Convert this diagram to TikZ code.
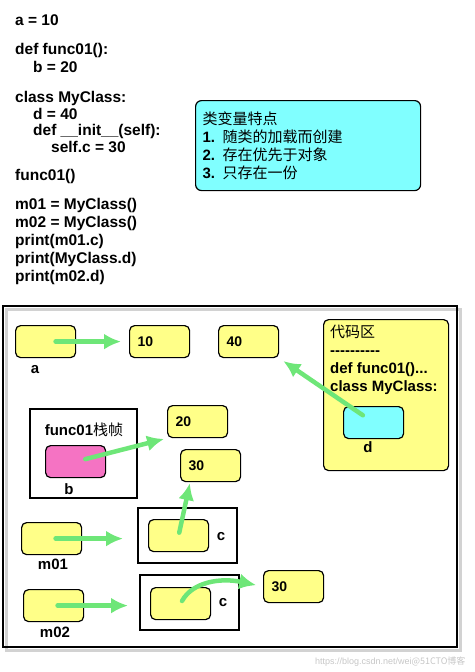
\documentclass[tikz,border=0pt]{standalone}
\usepackage{fontspec}
\setmainfont{Liberation Sans}
\newfontfamily\cjk{Noto Sans CJK SC}
\usetikzlibrary{arrows.meta, calc}
\newcommand\zh[1]{{\cjk\mdseries #1}}
\definecolor{cellyellow}{RGB}{255,255,136}
\definecolor{cellcyan}{RGB}{128,255,255}
\definecolor{cellpink}{RGB}{245,115,195}
\definecolor{flowgreen}{RGB}{110,230,120}
\tikzset{
    >={Latex},
    cell/.style={draw, line width=1.2pt, rounded corners=5pt, fill=cellyellow,
        anchor=north west, minimum width=60pt, minimum height=32pt,
        text width=44pt, inner xsep=8pt, inner ysep=0pt, align=left,
        font=\fontsize{14}{16}\selectfont\bfseries},
    frame/.style={draw, line width=2.2pt, anchor=north west, inner sep=0pt},
    flow/.style={-{Latex[length=17pt,width=16pt]}, line width=4.5pt,
        flowgreen, line cap=round},
    varname/.style={font=\fontsize{15}{18}\selectfont\bfseries, inner sep=0pt},
    code/.style={font=\fontsize{15.5}{18}\selectfont\bfseries, inner sep=0pt,
        anchor=base west}
}
\begin{document}
\begin{tikzpicture}[x=1pt, y=-1pt]
    \useasboundingbox (0,0) rectangle (474,672);
    % source code
    \foreach \n/\x/\y/\txt in {1/15/25.5/{a = 10}, 2/15/54/{def func01():},
        3/33/72/{b = 20}, 4/15/102/{class MyClass:}, 5/33/119/{d = 40},
        6/33/135/{def \_\_init\_\_(self):}, 7/51/152/{self.c = 30},
        8/15/180/{func01()}, 9/15/209/{m01 = MyClass()},
        10/15/227/{m02 = MyClass()}, 11/15/245/{print(m01.c)},
        12/15/263/{print(MyClass.d)}, 13/15/281/{print(m02.d)}}{
        \node[code] (line\n) at (\x,\y) {\txt};
    }
    % note
    \node[draw, line width=1.2pt, rounded corners=6pt, fill=cellcyan,
        anchor=north west, minimum width=225pt, minimum height=90pt,
        text width=211pt, inner xsep=7pt, align=left,
        font=\fontsize{15}{18}\selectfont\bfseries] (note) at (195,100)
        {\zh{类变量特点}\\ 1. \zh{随类的加载而创建}\\
         2. \zh{存在优先于对象}\\ 3. \zh{只存在一份}};
    % memory frame
    \draw[gray!35, line width=3pt] (6,309) rectangle (460,650);
    \draw[line width=2.5pt] (3,306) rectangle (457,647);
    % code zone
    \node[cell, minimum width=125pt, minimum height=151pt] (zone) at (323,319) {};
    \node[varname, anchor=north west, align=left] (zonetext) at (330,325)
        {\zh{代码区}\\ -{}-{}-{}-{}-{}-{}-{}-{}-{}-\\ def func01()...\\ class MyClass:};
    \node[cell, fill=cellcyan] (vard) at (343,406) {};
    \node[varname] (named) at (368,447) {d};
    % values
    \node[cell] (ten) at (129,325) {10};
    \node[cell] (forty) at (218,325) {40};
    \node[cell] (twenty) at (167,405) {20};
    \node[cell] (thirtyA) at (180,449) {30};
    \node[cell] (thirtyB) at (263,570) {30};
    % variables
    \node[cell] (vara) at (15,325) {};
    \node[varname] (namea) at (35,370) {a};
    \node[frame, minimum width=107pt, minimum height=89pt] (stack) at (29,408) {};
    \node[varname] (stacktext) at (84,430) {func01\zh{栈帧}};
    \node[cell, fill=cellpink] (varb) at (45,445) {};
    \node[varname] (nameb) at (69,489) {b};
    \node[cell] (m01) at (21,522) {};
    \node[varname] (namem01) at (53,564) {m01};
    \node[frame, minimum width=99pt, minimum height=55pt] (objA) at (137,507) {};
    \node[cell] (cA) at (148,519) {};
    \node[varname] (namecA) at (221,537) {c};
    \node[cell] (m02) at (23,589) {};
    \node[varname] (namem02) at (55,632) {m02};
    \node[frame, minimum width=99pt, minimum height=55pt] (objB) at (139,574) {};
    \node[cell] (cB) at (150,587) {};
    \node[varname] (namecB) at (223,603) {c};
    % references
    \draw[flow, shorten <=10pt, shorten >=8pt] (vara.center) -- (ten.west);
    \draw[flow, shorten <=10pt, shorten >=3pt] (varb.center) -- (twenty.south west);
    \draw[flow, shorten <=13pt, shorten >=5pt] (vard.center) -- (forty.south east);
    \draw[flow, shorten <=4pt, shorten >=14pt] (m01.center) -- (m01.center -| objA.west);
    \draw[flow, shorten <=4pt, shorten >=11pt] (m02.center) -- (m02.center -| objB.west);
    \draw[flow, shorten <=3pt, shorten >=1pt] (cA.center) -- (thirtyA.219);
    \draw[flow, shorten <=3pt, shorten >=7pt] (cB.center)
        .. controls +(12,-22) and +(-42,-9) .. (thirtyB.west);
    % watermark
    \node[anchor=east, text=gray!45, font=\fontsize{9}{10}\selectfont]
        (mark) at (469,662) {https://blog.csdn.net/wei\zh{@51CTO博客}};
\end{tikzpicture}
\end{document}
